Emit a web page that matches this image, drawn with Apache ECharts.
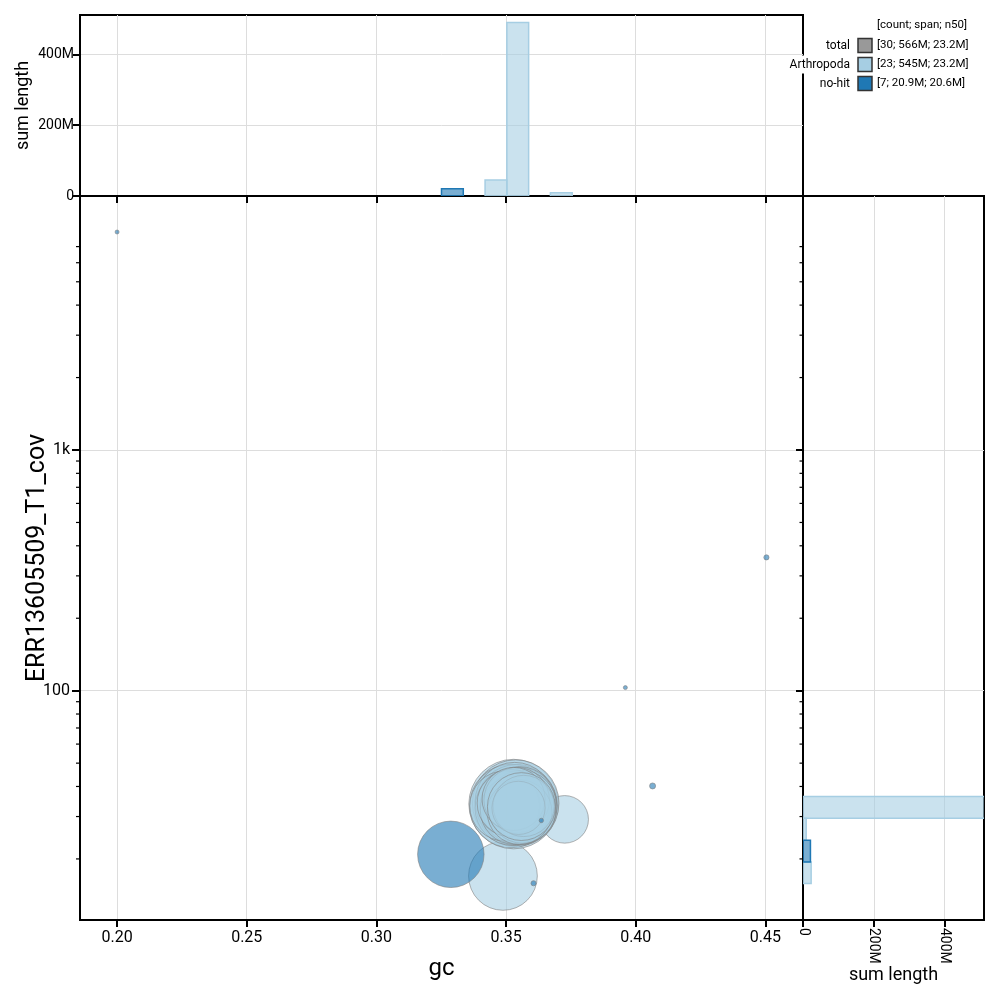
<!DOCTYPE html>
<html>
<head>
<meta charset="utf-8">
<script src="https://cdn.jsdelivr.net/npm/echarts@6/dist/echarts.min.js"></script>
<style>
    html, body { margin: 0; padding: 0; background: #fff; }
    #chart { width: 1000px; height: 1000px; }
</style>
</head>
<body>
<div id="chart"></div>
<script>
    // contigs per taxon: gc, coverage, length (Mb)
    var arthGc = [0.3488, 0.3726, 0.3529, 0.3537, 0.3521, 0.3541, 0.3533, 0.3548, 0.3525, 0.3552, 0.3537, 0.3545,
        0.3495, 0.3560, 0.3533, 0.3518, 0.3564, 0.3541, 0.3552, 0.3529, 0.3568, 0.3548, 0.3559]
    var arthCov = [17.0, 29.2, 33.8, 34.1, 33.2, 33.5, 34.5, 33.2, 32.6, 34.1, 32.9, 32.2,
        33.2, 33.5, 31.9, 34.1, 31.9, 35.1, 31.3, 35.5, 33.2, 32.6, 33.0]
    var arthLen = [22.1, 10.3, 38.0, 35.5, 33.0, 31.0, 29.5, 28.0, 26.5, 25.0, 24.0, 23.2,
        23.0, 22.5, 22.0, 21.0, 20.5, 20.0, 19.5, 18.5, 17.4, 13.0, 21.5]

    var noHitGc = [0.3287, 0.2000, 0.3960, 0.4065, 0.4504, 0.3636, 0.3606]
    var noHitCov = [20.9, 8050, 103, 40.2, 358, 28.9, 15.85]
    var noHitLen = [20.6, 0.02, 0.02, 0.08, 0.05, 0.03, 0.05]

    // gc histogram (top panel): bin edges and summed length (Mb)
    var gcBinEdges = [0.3251, 0.3335, 0.3419, 0.3503, 0.3587, 0.3671, 0.3755]
    var gcHistArth = [0, 0, 45, 490, 0, 9]
    var gcHistNoHit = [20.7, 0, 0, 0, 0, 0]

    // coverage histogram (right panel)
    var covBinEdges = [15.8, 19.4, 23.9, 29.5, 36.3]
    var covHistArth = [23, 0, 9, 520]
    var covHistNoHit = [0, 21, 0, 0]

    // axis ticks
    var gcTicks = [0.20, 0.25, 0.30, 0.35, 0.40, 0.45]
    var lenTicks = [0, 200, 400]
    var covMajorTicks = [100, 1000]
    var covMinorTicks = [20, 30, 40, 50, 60, 70, 80, 90, 200, 300, 400, 500, 600, 700, 800, 900,
        2000, 3000, 4000, 5000, 6000, 7000]

    var legendNames = ['total', 'Arthropoda', 'no-hit']
    var legendStats = ['[30; 566M; 23.2M]', '[23; 545M; 23.2M]', '[7; 20.9M; 20.6M]']

    var gcMin = 0.1857, gcMax = 0.4645
    var covMin = 11.15, covMax = 11360
    var lenMax = 511

    var colArth = '#a6cee3', colNoHit = '#1f78b4', colTotal = '#999999'
    var font = 'Roboto'

    function lenLabel(v) {
        return v === 0 ? '0' : v + 'M'
    }

    function covLabel(v) {
        if (Math.abs(v - 1000) < 1e-6) return '1k'
        if (Math.abs(v - 100) < 1e-6) return '100'
        return ''
    }

    function points(gc, cov, len) {
        return gc.map(function (g, i) { return [g, cov[i], len[i]] })
    }

    function bubbleSeries(name, gc, cov, len, color) {
        return {
            name: name,
            type: 'scatter',
            xAxisIndex: 0,
            yAxisIndex: 0,
            data: points(gc, cov, len),
            symbolSize: function (v) {
                return 2 + 14.2 * Math.sqrt(v[2])
            },
            itemStyle: {
                color: color,
                opacity: 0.6,
                borderColor: '#808080',
                borderWidth: 1
            },
            emphasis: {disabled: true},
            z: 3
        }
    }

    // histogram bars as rectangles between bin edges
    function gcHistSeries(values, color, fill) {
        var data = []
        values.forEach(function (v, i) {
            if (v > 0) data.push([gcBinEdges[i], gcBinEdges[i + 1], v])
        })
        return {
            type: 'custom',
            xAxisIndex: 1,
            yAxisIndex: 1,
            clip: true,
            silent: true,
            data: data,
            renderItem: function (params, api) {
                var p0 = api.coord([api.value(0), 0])
                var p1 = api.coord([api.value(1), api.value(2)])
                return {
                    type: 'rect',
                    shape: {x: p0[0], y: p1[1], width: p1[0] - p0[0], height: p0[1] - p1[1]},
                    style: {fill: fill, stroke: color, lineWidth: 1.5}
                }
            },
            z: 3
        }
    }

    function covHistSeries(values, color, fill) {
        var data = []
        values.forEach(function (v, i) {
            if (v > 0) data.push([covBinEdges[i], covBinEdges[i + 1], v])
        })
        return {
            type: 'custom',
            xAxisIndex: 2,
            yAxisIndex: 2,
            clip: true,
            silent: true,
            data: data,
            renderItem: function (params, api) {
                var p0 = api.coord([0, api.value(0)])
                var p1 = api.coord([api.value(2), api.value(1)])
                return {
                    type: 'rect',
                    shape: {x: p0[0], y: p1[1], width: p1[0] - p0[0], height: p0[1] - p1[1]},
                    style: {fill: fill, stroke: color, lineWidth: 1.5}
                }
            },
            z: 3
        }
    }

    // minor ticks for the log axes: short lines left of the axis, length in pixels
    function tickSeries(xi, yi, xRef, values, len, width) {
        return {
            type: 'custom',
            xAxisIndex: xi,
            yAxisIndex: yi,
            silent: true,
            data: values.map(function (v) { return [xRef, v] }),
            renderItem: function (params, api) {
                var p = api.coord([api.value(0), api.value(1)])
                return {
                    type: 'line',
                    shape: {x1: p[0] - len, y1: p[1], x2: p[0], y2: p[1]},
                    style: {stroke: '#000', lineWidth: width}
                }
            },
            z: 5
        }
    }

    var blackLine = {show: true, lineStyle: {color: '#000', width: 2}}
    var split = {show: true, lineStyle: {color: '#dddddd', width: 1}}

    function ticks(values, len) {
        return {show: true, length: len || 7, customValues: values, lineStyle: {color: '#000', width: 2}}
    }

    function labels(values, size, extra) {
        return Object.assign({
            color: '#000', fontSize: size, fontFamily: font, customValues: values,
            showMinLabel: true, showMaxLabel: true
        }, extra)
    }

    function axisName(size) {
        return {fontSize: size, color: '#000', fontFamily: font}
    }

    var legendGraphics = [{
        type: 'text',
        x: 877, y: 25,
        style: {text: '[count; span; n50]', font: '11.5px ' + font, fill: '#000', verticalAlign: 'middle'},
        z: 100
    }]
    var legendColors = [colTotal, colArth, colNoHit]
    legendNames.forEach(function (n, i) {
        var y = 45.5 + 19 * i
        legendGraphics.push({
            type: 'text', x: 852, y: y,
            style: {
                text: n, font: '12px ' + font, fill: '#000', align: 'right', verticalAlign: 'middle',
                backgroundColor: '#fff', padding: [3, 2, 3, 2]
            },
            z: 100
        })
        legendGraphics.push({
            type: 'rect',
            shape: {x: 858, y: y - 7, width: 14, height: 14},
            style: {fill: legendColors[i], stroke: '#333', lineWidth: 1.5},
            z: 100
        })
        legendGraphics.push({
            type: 'text', x: 877, y: y,
            style: {text: legendStats[i], font: '11.5px ' + font, fill: '#000', verticalAlign: 'middle'},
            z: 100
        })
    })

    var chart = echarts.init(document.getElementById('chart'))
    chart.setOption({
        animation: false,
        backgroundColor: '#fff',
        textStyle: {fontFamily: font},
        grid: [
            {left: 80, top: 196, width: 723, height: 724, show: true, borderColor: '#000', borderWidth: 2},
            {left: 80, top: 15, width: 723, height: 181, show: true, borderColor: '#000', borderWidth: 2},
            {left: 803, top: 196, width: 181, height: 724, show: true, borderColor: '#000', borderWidth: 2}
        ],
        xAxis: [{
            gridIndex: 0,
            type: 'value',
            min: gcMin,
            max: gcMax,
            name: 'gc',
            nameLocation: 'middle',
            nameMoveOverlap: false,
            nameGap: 37,
            nameTextStyle: axisName(24),
            axisLine: blackLine,
            axisTick: ticks(gcTicks),
            axisLabel: labels(gcTicks, 16, {
                margin: 10,
                formatter: function (v) { return v.toFixed(2) }
            }),
            splitLine: split
        }, {
            gridIndex: 1,
            type: 'value',
            min: gcMin,
            max: gcMax,
            axisLine: blackLine,
            axisTick: ticks(gcTicks),
            axisLabel: {show: false},
            splitLine: split
        }, {
            gridIndex: 2,
            type: 'value',
            min: 0,
            max: lenMax,
            name: 'sum length',
            nameLocation: 'middle',
            nameMoveOverlap: false,
            nameGap: 46,
            nameTextStyle: axisName(18),
            axisLine: blackLine,
            axisTick: ticks(lenTicks),
            axisLabel: labels(lenTicks, 14, {rotate: -90, margin: 8, formatter: lenLabel}),
            splitLine: split
        }],
        yAxis: [{
            gridIndex: 0,
            type: 'log',
            logBase: 10,
            min: covMin,
            max: covMax,
            name: 'ERR13605509_T1_cov',
            nameLocation: 'middle',
            nameMoveOverlap: false,
            nameGap: 30,
            nameTextStyle: axisName(25),
            axisLine: blackLine,
            axisTick: ticks(covMajorTicks, 8),
            axisLabel: labels(covMajorTicks, 16, {margin: 10, formatter: covLabel}),
            splitLine: split
        }, {
            gridIndex: 1,
            type: 'value',
            min: 0,
            max: lenMax,
            name: 'sum length',
            nameLocation: 'middle',
            nameMoveOverlap: false,
            nameGap: 48,
            nameTextStyle: axisName(18),
            axisLine: blackLine,
            axisTick: ticks(lenTicks),
            axisLabel: labels(lenTicks, 14, {margin: 6, formatter: lenLabel}),
            splitLine: split
        }, {
            gridIndex: 2,
            type: 'log',
            logBase: 10,
            min: covMin,
            max: covMax,
            axisLine: blackLine,
            axisTick: ticks(covMajorTicks, 7),
            axisLabel: {show: false},
            splitLine: split
        }],
        series: [
            tickSeries(0, 0, gcMin, covMinorTicks, 4, 1.2),
            tickSeries(2, 2, 0, covMinorTicks, 3.5, 1.2),
            gcHistSeries(gcHistArth, colArth, 'rgba(166,206,227,0.6)'),
            gcHistSeries(gcHistNoHit, colNoHit, 'rgba(31,120,180,0.6)'),
            covHistSeries(covHistArth, colArth, 'rgba(166,206,227,0.6)'),
            covHistSeries(covHistNoHit, colNoHit, 'rgba(31,120,180,0.6)'),
            bubbleSeries('Arthropoda', arthGc, arthCov, arthLen, colArth),
            bubbleSeries('no-hit', noHitGc, noHitCov, noHitLen, colNoHit)
        ],
        graphic: legendGraphics
    })
</script>
</body>
</html>
